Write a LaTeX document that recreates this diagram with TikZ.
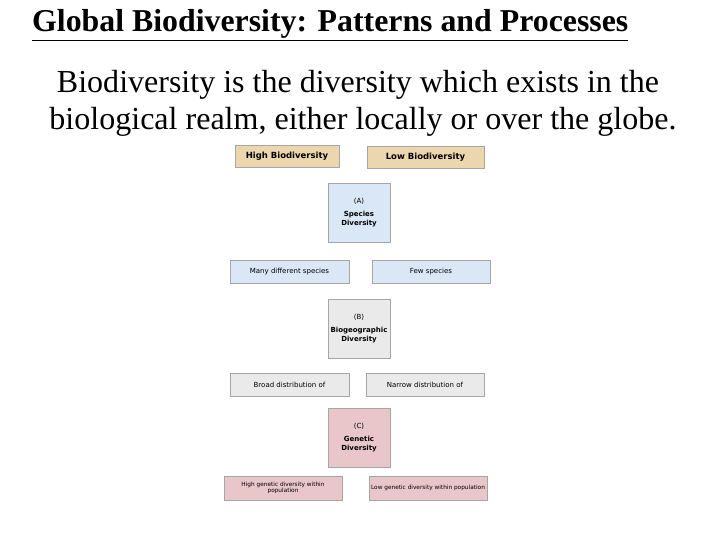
\documentclass[tikz,border=0pt]{standalone}
\usepackage{fontspec}
\setmainfont{Liberation Serif}
\newfontfamily\boxfont{DejaVu Sans}
\definecolor{tan}{HTML}{EBD6AE}
\definecolor{lblue}{HTML}{DAE7F6}
\definecolor{lgray}{HTML}{EAEAEA}
\definecolor{lpink}{HTML}{E9C6CA}
\begin{document}
\begin{tikzpicture}[x=1pt,y=-1pt,
  bx/.style={draw=gray!70,line width=0.6pt,inner sep=1pt,align=center,font=\boxfont\fontsize{7}{8}\selectfont},
  hb/.style={bx,font=\boxfont\bfseries\fontsize{8.5}{9}\selectfont},
  cb/.style={bx,font=\boxfont\fontsize{7}{8.5}\selectfont},
  bt/.style={inner sep=0pt,font=\fontsize{30}{34}\selectfont}]
\useasboundingbox (0,0) rectangle (720,540);
\node[anchor=west,inner sep=0pt] (title) at (32,25) {\resizebox{596pt}{!}{\fontsize{24}{28}\selectfont\bfseries\underline{Global Biodiversity: Patterns and Processes}}};
\node[bt] (body1) at (358,85) {\resizebox{602pt}{!}{Biodiversity is the diversity which exists in the}};
\node[bt] (body2) at (363,122) {\resizebox{627pt}{!}{biological realm, either locally or over the globe.}};
\node[hb,fill=tan,minimum width=104pt,minimum height=22pt] (hi) at (287,156) {High Biodiversity};
\node[hb,fill=tan,minimum width=117pt,minimum height=22pt] (lo) at (425.5,157) {Low Biodiversity};
\node[cb,fill=lblue,minimum width=62pt,minimum height=59pt] (A) at (359,212.5) {(A)\\[5pt]\textbf{Species}\\\textbf{Diversity}};
\node[bx,fill=lblue,minimum width=119pt,minimum height=23pt] (a1) at (289.5,271.5) {Many different species};
\node[bx,fill=lblue,minimum width=118pt,minimum height=23pt] (a2) at (431,271.5) {Few species};
\node[cb,fill=lgray,minimum width=62pt,minimum height=59pt] (B) at (359,328.5) {(B)\\[5pt]\textbf{Biogeographic}\\\textbf{Diversity}};
\node[bx,fill=lgray,minimum width=119pt,minimum height=23pt] (b1) at (289.5,384.5) {Broad distribution of};
\node[bx,fill=lgray,minimum width=118pt,minimum height=23pt] (b2) at (425,384.5) {Narrow distribution of};
\node[cb,fill=lpink,minimum width=62pt,minimum height=59pt] (C) at (359,437.5) {(C)\\[5pt]\textbf{Genetic}\\\textbf{Diversity}};
\node[bx,fill=lpink,minimum width=118pt,minimum height=24pt,font=\boxfont\fontsize{5.8}{6.5}\selectfont] (c1) at (283,488) {High genetic diversity within\\population};
\node[bx,fill=lpink,minimum width=118pt,minimum height=24pt,font=\boxfont\fontsize{5.8}{6.5}\selectfont] (c2) at (428,488) {Low genetic diversity within population};
\end{tikzpicture}
\end{document}
